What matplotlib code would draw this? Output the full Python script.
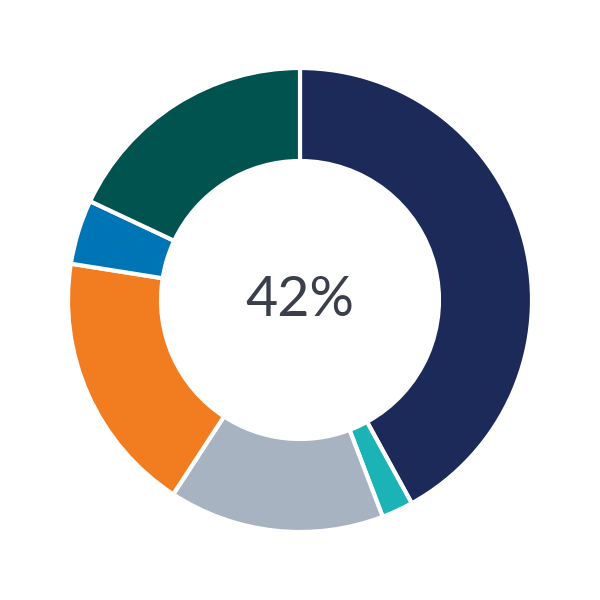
import matplotlib.pyplot as plt

labels = ["Navy", "Teal", "Gray", "Orange", "Blue", "Green"]
values = [42, 2.2, 15, 18.3, 4.5, 18]
colors = ["#1c2a5a", "#1bb3b5", "#a8b3c1", "#f27d20", "#0075b5", "#01534f"]
center_text = "42%"

fig = plt.figure(figsize=(6, 6), dpi=100)
ax = fig.add_axes([0, 0, 1, 1])

ax.pie(values, colors=colors, startangle=90, counterclock=False,
       radius=232, wedgeprops=dict(width=93, edgecolor="white", linewidth=3))

ax.text(0, 0, center_text, ha="center", va="center", fontsize=40,
        family="Lato", fontweight="normal", color="#3a3f4b")

ax.set_xlim(-300, 300)
ax.set_ylim(-300, 300)
ax.set_aspect("equal")
ax.axis("off")

plt.savefig("out.png", dpi=100, facecolor="white")
